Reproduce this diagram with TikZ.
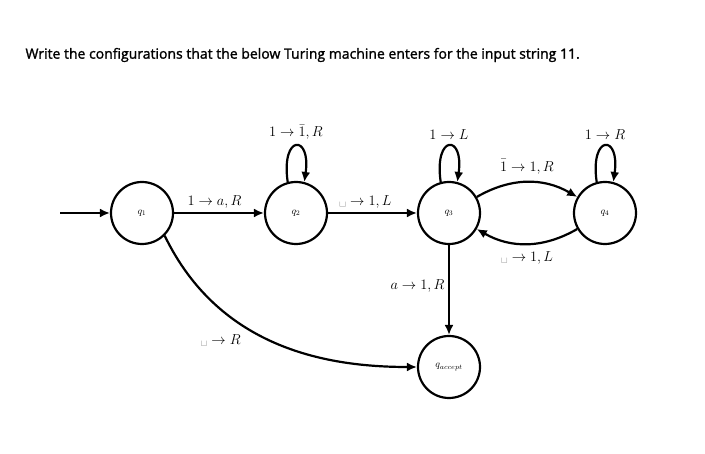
\documentclass[tikz,border=0pt]{standalone}
\usepackage{fontspec}
\newfontfamily\titlefont{Open Sans}[FakeBold=1.5]
\usetikzlibrary{arrows.meta}
\newcommand{\blank}{\text{\textvisiblespace}}
\usepackage{amsmath}
\begin{document}
\begin{tikzpicture}[x=1pt,y=-1pt,
  st/.style={circle,draw,line width=2.2pt,minimum size=62pt,inner sep=0pt,font=\normalsize},
  tr/.style={line width=2.2pt,-{Latex[length=10pt,width=9pt]}},
  lb/.style={font=\fontsize{14}{16}\selectfont}]
\useasboundingbox (0,0) rectangle (705,454);
\node[anchor=west,font=\titlefont\fontsize{14}{16}\selectfont] (t) at (22,55) {Write the configurations that the below Turing machine enters for the input string 11.};
\node[st] (q1) at (142,213) {$q_1$};
\node[st] (q2) at (296,213) {$q_2$};
\node[st] (q3) at (449,213) {$q_3$};
\node[st] (q4) at (605,213) {$q_4$};
\node[st] (qa) at (449,367) {$q_{accept}$};
\coordinate (s) at (60,213);
\draw[tr] (s) -- (q1);
\draw[tr] (q1) -- node[lb,above,pos=0.45] {$1\rightarrow a,R$} (q2);
\draw[tr] (q2) -- node[lb,above,pos=0.42] {$\blank\rightarrow 1,L$} (q3);
\draw[tr] (q3) -- node[lb,left,pos=0.45] {$a\rightarrow 1,R$} (qa);
\draw[tr] (q3) to[bend left=30] node[lb,above=4pt] {$\bar{1}\rightarrow 1,R$} (q4);
\draw[tr] (q4) to[bend left=30] node[lb,below=3pt] {$\blank\rightarrow 1,L$} (q3);
\draw[tr] (q1.-45) .. controls (220,350) and (330,367) .. node[lb,pos=0.38,below left=2pt] {$\blank\rightarrow R$} (qa);
\foreach \q/\t in {q2/{1\rightarrow \bar{1},R},q3/{1\rightarrow L},q4/{1\rightarrow R}}{
  \draw[tr] (\q.105) .. controls +(-7,-48) and +(7,-48) .. node[lb,above=2pt] {$\t$} (\q.75);
}
\end{tikzpicture}
\end{document}
